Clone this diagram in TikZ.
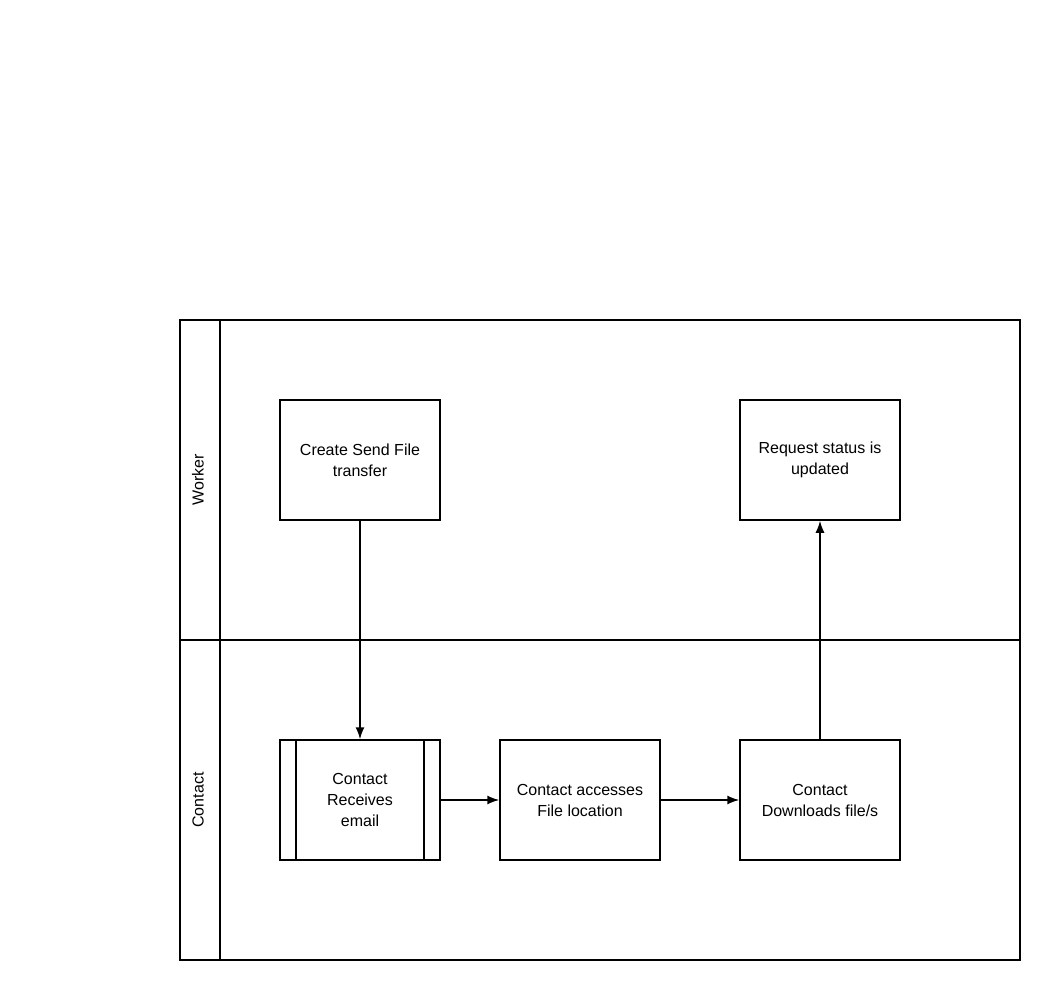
\documentclass[tikz,border=0pt]{standalone}
\usepackage{fontspec}
\setmainfont{Liberation Sans}
\usetikzlibrary{arrows.meta}
\begin{document}
\begin{tikzpicture}[x=1pt,y=-1pt,line width=1.5pt,
  box/.style={draw,minimum width=160pt,minimum height=120pt,align=center,font=\fontsize{16}{21}\selectfont,inner sep=0pt},
  arr/.style={-{Latex[length=12pt,width=9pt]}},
  lane/.style={font=\fontsize{16}{20}\selectfont,rotate=90}]
\useasboundingbox (0,0) rectangle (1060,1000);
\draw (180,320) rectangle (1020,960);
\draw (220,320) -- (220,960);
\draw (180,640) -- (1020,640);
\node[lane] (lw) at (198,480) {Worker};
\node[lane] (lc) at (198,800) {Contact};
\node[box] (create) at (360,460) {Create Send File\\transfer};
\node[box] (req) at (820,460) {Request status is\\updated};
\node[box] (recv) at (360,800) {Contact\\Receives\\email};
\draw (296,740) -- (296,860) (424,740) -- (424,860);
\node[box] (acc) at (580,800) {Contact accesses\\File location};
\node[box] (down) at (820,800) {Contact\\Downloads file/s};
\draw[arr] (create) -- (recv);
\draw[arr] (recv) -- (acc);
\draw[arr] (acc) -- (down);
\draw[arr] (down) -- (req);
\end{tikzpicture}
\end{document}
